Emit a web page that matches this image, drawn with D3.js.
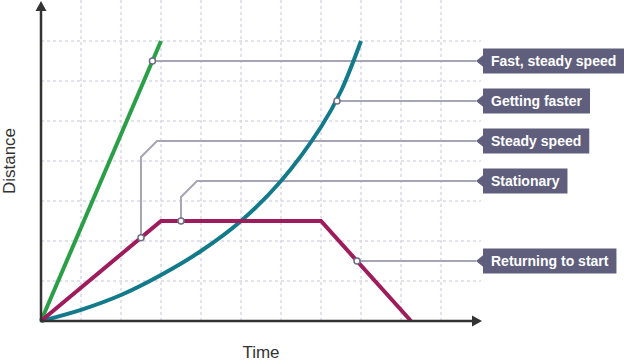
<!DOCTYPE html>
<html>
<head>
<meta charset="utf-8">
<script src="https://cdn.jsdelivr.net/npm/d3@7"></script>
<style>
  html, body { margin: 0; padding: 0; background: #fff; }
  svg { display: block; font-family: "Liberation Sans", Arial, sans-serif; }
</style>
</head>
<body>
<svg id="chart" width="624" height="363"></svg>
<script>
// distance-time lines (x = time units, y = distance units)
const fastSteady = [[0, 0], [3, 7]]
const gettingFaster = [[0, 0], [1, 0.28], [2, 0.65], [3, 1.15], [4, 1.75], [5, 2.5], [6, 3.5], [7, 4.85], [7.5, 5.75], [8, 7]]
const journey = [[0, 0], [3, 2.5], [7, 2.5], [9.25, 0]]

// annotations
const noteText = ['Fast, steady speed', 'Getting faster', 'Steady speed', 'Stationary', 'Returning to start']
const noteX = [2.786, 7.4, 2.5, 3.5, 7.9]
const noteY = [6.5, 5.5, 2.083, 2.5, 1.5]
const noteRow = [6.5, 5.5, 4.5, 3.5, 1.5]
const noteElbow = [false, false, true, true, false]

const xTicks = d3.range(1, 11)
const yTicks = d3.range(1, 8)

const svg = d3.select('#chart')

const x = d3.scaleLinear().domain([0, 11]).range([41, 481])
const y = d3.scaleLinear().domain([0, 8]).range([321, 1])

// grid
const grid = svg.append('g').classed('grid', true)
grid.selectAll('line.v')
  .data(xTicks)
  .enter().append('line')
  .attr('x1', d => x(d)).attr('x2', d => x(d))
  .attr('y1', 0).attr('y2', y(0))
grid.selectAll('line.h')
  .data(yTicks)
  .enter().append('line')
  .attr('x1', x(0)).attr('x2', x(11))
  .attr('y1', d => y(d)).attr('y2', d => y(d))
grid.selectAll('line')
  .style('stroke', '#d9d9e6')
  .style('stroke-width', 1.5)
  .style('stroke-dasharray', '3,3')

// leader lines (under the data lines)
const boxX = 483
const tipX = 476
const leaders = svg.append('g').classed('leaders', true)
noteText.forEach((t, i) => {
  const px = x(noteX[i]), py = y(noteY[i]), ry = y(noteRow[i])
  let d
  if (noteElbow[i]) {
    const e = 16
    d = `M${px},${py}V${ry + e}L${px + e},${ry}H${tipX}`
  } else {
    d = `M${px},${py}H${tipX}`
  }
  leaders.append('path')
    .attr('d', d)
    .style('fill', 'none')
    .style('stroke', '#a5a5b7')
    .style('stroke-width', 2)
})

// data lines
const line = d3.line().x(d => x(d[0])).y(d => y(d[1]))
const series = [
  { data: fastSteady, color: '#2a9f47', curve: d3.curveLinear },
  { data: gettingFaster, color: '#127a8a', curve: d3.curveCatmullRom.alpha(0.5) },
  { data: journey, color: '#9e1c5b', curve: d3.curveLinear }
]
svg.append('g').selectAll('path')
  .data(series)
  .enter().append('path')
  .attr('d', d => line.curve(d.curve)(d.data))
  .style('fill', 'none')
  .style('stroke', d => d.color)
  .style('stroke-width', 4)
  .style('stroke-linejoin', 'miter')

// axes
const axis = svg.append('g').classed('axes', true)
axis.append('line')
  .attr('x1', x(0)).attr('x2', x(0))
  .attr('y1', y(0) + 1).attr('y2', 8)
axis.append('line')
  .attr('x1', x(0) - 1).attr('x2', 476)
  .attr('y1', y(0)).attr('y2', y(0))
axis.selectAll('line')
  .style('stroke', '#333')
  .style('stroke-width', 2.5)
axis.append('path')
  .attr('d', `M${x(0)},1L${x(0) + 5.5},11L${x(0) - 5.5},11Z`)
  .style('fill', '#333')
axis.append('path')
  .attr('d', `M482,${y(0)}L472,${y(0) - 5.5}L472,${y(0) + 5.5}Z`)
  .style('fill', '#333')

svg.append('text')
  .attr('x', 261).attr('y', 358)
  .attr('text-anchor', 'middle')
  .style('font-size', '17px')
  .style('fill', '#333')
  .text('Time')
svg.append('text')
  .attr('transform', 'translate(15,161) rotate(-90)')
  .attr('text-anchor', 'middle')
  .style('font-size', '17px')
  .style('fill', '#333')
  .text('Distance')

// anchor dots
svg.append('g').selectAll('circle')
  .data(noteText.map((t, i) => i))
  .enter().append('circle')
  .attr('cx', i => x(noteX[i]))
  .attr('cy', i => y(noteY[i]))
  .attr('r', 3)
  .style('fill', '#fff')
  .style('stroke', '#6f6f88')
  .style('stroke-width', 1.5)

// label boxes
const notes = svg.append('g').classed('notes', true)
noteText.forEach((t, i) => {
  const ry = y(noteRow[i])
  const g = notes.append('g')
  const rect = g.append('rect')
  const label = g.append('text')
    .attr('x', boxX + 8)
    .attr('y', ry)
    .attr('dy', '0.36em')
    .style('font-size', '14px')
    .style('font-weight', 'bold')
    .style('fill', '#fff')
    .text(t)
  const w = label.node().getComputedTextLength() + 16
  rect.attr('x', boxX).attr('y', ry - 12.5)
    .attr('width', w).attr('height', 25)
    .style('fill', '#5f5e7c')
  g.insert('path', 'text')
    .attr('d', `M${tipX},${ry}L${boxX + 1},${ry - 6.5}L${boxX + 1},${ry + 6.5}Z`)
    .style('fill', '#5f5e7c')
})
</script>
</body>
</html>
